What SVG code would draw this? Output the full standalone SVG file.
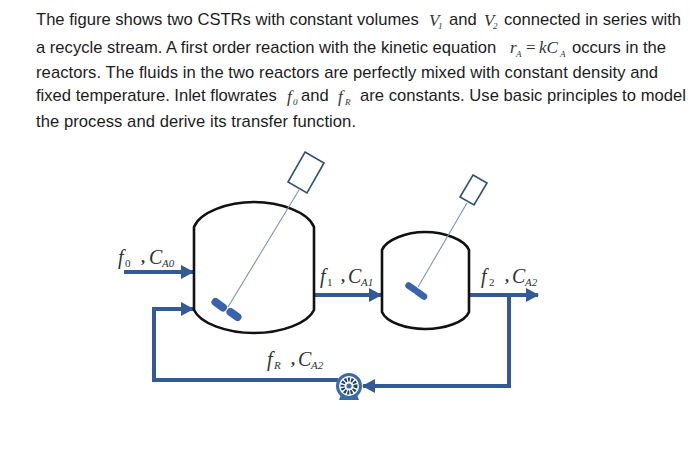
<svg xmlns="http://www.w3.org/2000/svg" width="700" height="457" viewBox="0 0 700 457">
<style>
.t{font-family:"Liberation Sans",Arial,sans-serif;font-size:16.6px;fill:#1c1c1c}
.m{font-family:"Liberation Serif","Times New Roman",serif;font-style:italic;fill:#333}
.b{font-size:20px}.s{font-size:9px}.l{font-size:11px}.n{font-size:16px;font-style:normal;font-weight:bold}.u{font-style:normal}
.tank{fill:#fff;stroke:#111;stroke-width:2.6}
.motor{fill:#fff;stroke:#2f4f7c;stroke-width:1.6}
.shaft{stroke:#8294b0;stroke-width:1.1;fill:none}
.blade{stroke:#3a62ad;stroke-width:8;stroke-linecap:round;fill:none}
.pipe{fill:none;stroke:#335a96;stroke-width:4}
</style>
<defs><marker id="a" markerUnits="userSpaceOnUse" markerWidth="13" markerHeight="14" refX="12" refY="7" orient="auto"><path d="M0 0L13 7L0 14Z" fill="#335a96"/></marker></defs>
<rect width="700" height="457" fill="#fff"/>
<g id="text">
<text class="t" x="36" y="25">The figure shows two CSTRs with constant volumes</text>
<text class="m" x="429" y="26" font-size="17">V</text><text class="m s" x="438" y="29">1</text>
<text class="t" x="449" y="25">and</text>
<text class="m" x="484" y="26" font-size="17">V</text><text class="m s" x="493" y="29">2</text>
<text class="t" x="504" y="25">connected in series with</text>
<text class="t" x="36" y="53">a recycle stream. A first order reaction with the kinetic equation</text>
<text class="m" x="510" y="53" font-size="17">r</text><text class="m s" x="516" y="57">A</text>
<text class="m u" x="526" y="53" font-size="17">=</text>
<text class="m" x="539" y="53" font-size="17">kC</text><text class="m s" x="560" y="57">A</text>
<text class="t" x="572" y="53">occurs in the</text>
<text class="t" x="36" y="78" textLength="622">reactors. The fluids in the two reactors are perfectly mixed with constant density and</text>
<text class="t" x="36" y="101">fixed temperature. Inlet flowrates</text>
<text class="m" x="287" y="102" font-size="17">f</text><text class="m s" x="293" y="105">0</text>
<text class="t" x="301" y="101">and</text>
<text class="m" x="338" y="102" font-size="17">f</text><text class="m s" x="345" y="105">R</text>
<text class="t" x="360" y="101" textLength="326">are constants. Use basic principles to model</text>
<text class="t" x="36" y="126.5" textLength="320">the process and derive its transfer function.</text>
</g>
<g id="connectors">
<path class="pipe" d="M124 272H193" marker-end="url(#a)"/>
<path class="pipe" d="M154 382V309H193" marker-end="url(#a)"/>
<path class="pipe" d="M314 295H381" marker-end="url(#a)"/>
<path class="pipe" d="M469 295H538" marker-end="url(#a)"/>
<path class="pipe" d="M509 295V386H363" marker-end="url(#a)"/>
<path class="pipe" d="M154 380H338"/>
</g>
<g id="reactor1">
<path class="tank" d="M194 227C200 212 228 202 254 202C280 202 308 212 314 227V310C308 323 282 333 254 333C226 333 200 323 194 310Z"/>
<path class="shaft" d="M299 190L228 307"/>
<path class="motor" d="M305 152L324 163L307 193L288 182Z"/>
<path class="blade" d="M215.500 302L223 307.500M230.500 312L237.500 317"/>
</g>
<g id="reactor2">
<path class="tank" d="M382 250C386 240 406 232 425 232C445 232 465 240 469 250V312C465 322 445 329 425 329C406 329 386 322 382 312Z"/>
<path class="shaft" d="M467 203L418 287"/>
<path class="motor" d="M473 175L487 183L474 205L460 197Z"/>
<path class="blade" d="M408.500 285.500L415 290M417 291.500L424 296.500" style="stroke-width:6.500"/>
</g>
<g id="pump">
<path d="M339 400L342 392H356L359 400Z" fill="#3a6aa8"/>
<circle cx="349" cy="386" r="11.500" fill="#fff" stroke="#3a6aa8" stroke-width="3"/>
<circle cx="349" cy="386" r="6.500" fill="none" stroke="#1f3f68" stroke-width="4" stroke-dasharray="2 1.2"/>
<circle cx="349" cy="386" r="2.600" fill="#3a6aa8"/>
</g>
<g id="labels">
<text class="m b" x="118" y="264">f</text><text class="m l u" x="125" y="267">0</text><text class="m n" x="141" y="263">,</text><text class="m b" x="149" y="264">C</text><text class="m l" x="162" y="267">A0</text>
<text class="m b" x="320" y="283">f</text><text class="m l u" x="327" y="286">1</text><text class="m n" x="341" y="282">,</text><text class="m b" x="348" y="283">C</text><text class="m l" x="361" y="286">A1</text>
<text class="m b" x="481" y="283">f</text><text class="m l u" x="489" y="286">2</text><text class="m n" x="505" y="282">,</text><text class="m b" x="512" y="283">C</text><text class="m l" x="525" y="286">A2</text>
<text class="m b" x="267" y="366">f</text><text class="m l" x="274" y="369">R</text><text class="m n" x="291" y="365">,</text><text class="m b" x="298" y="366">C</text><text class="m l" x="311" y="369">A2</text>
</g>
</svg>
